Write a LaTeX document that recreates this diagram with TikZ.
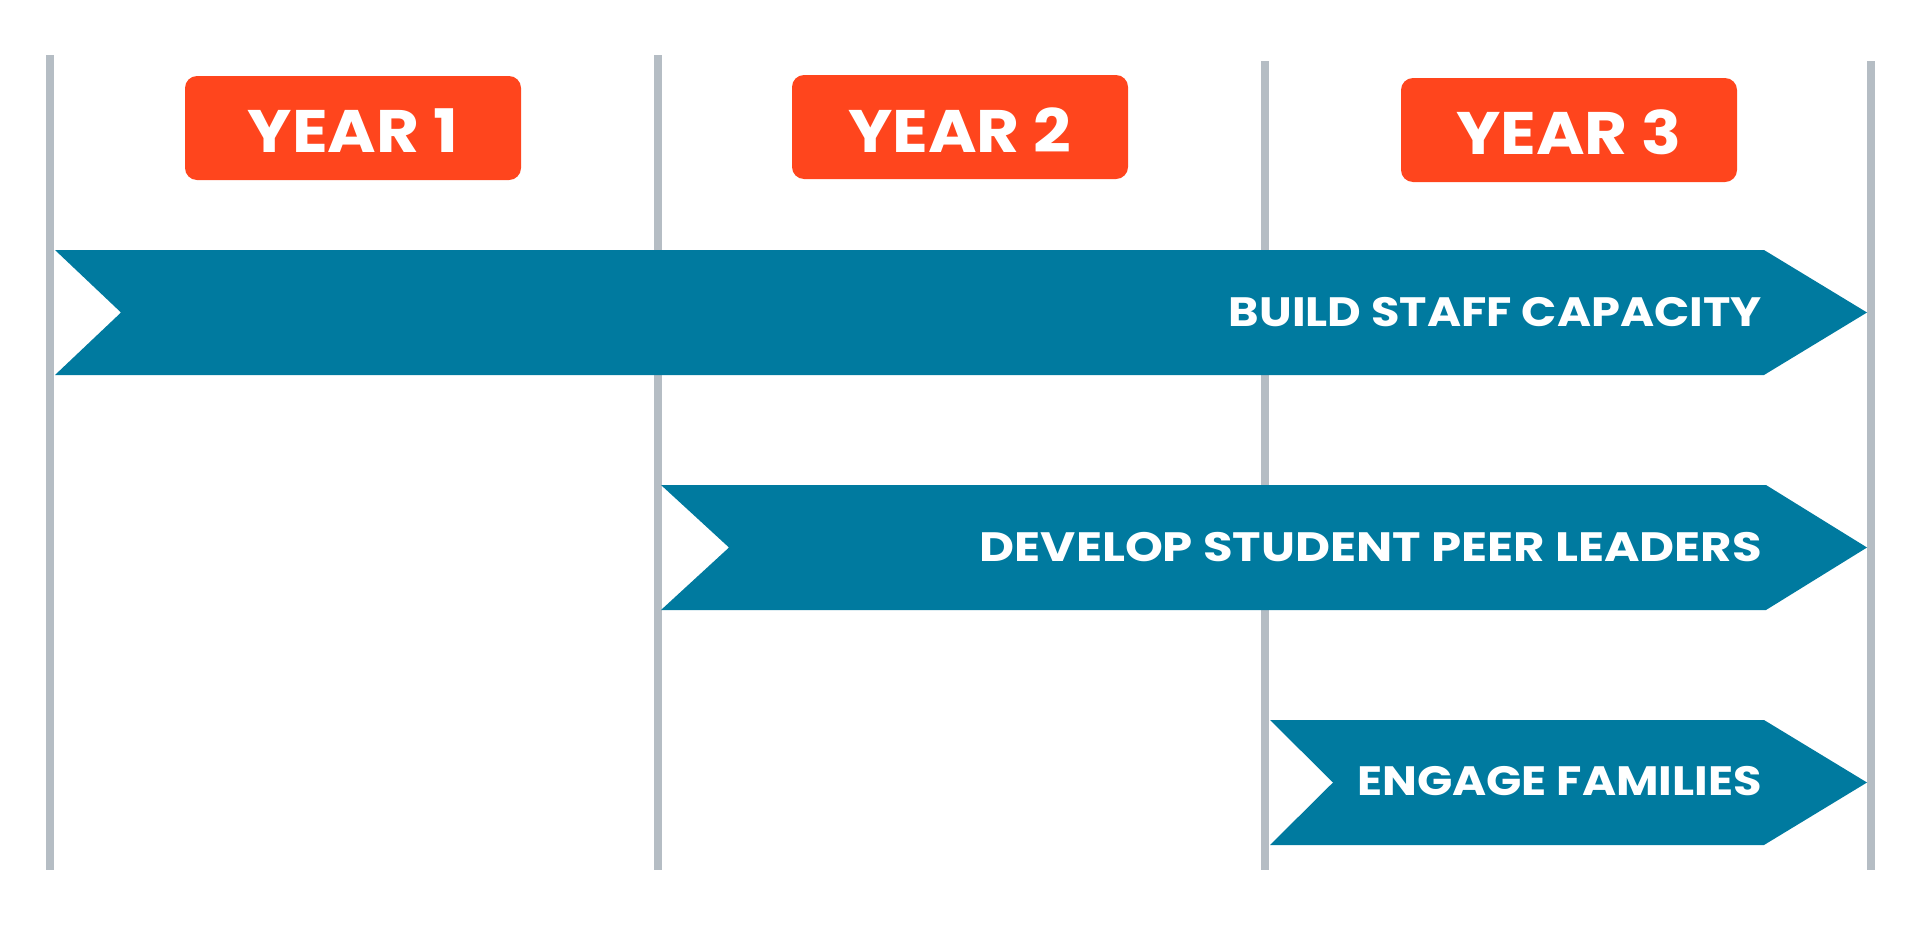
\documentclass[tikz,border=0pt]{standalone}
\usepackage{fontspec}
\setmainfont{Poppins}
\definecolor{yearorange}{HTML}{FF451D}
\definecolor{bandteal}{HTML}{007A9F}
\definecolor{linegray}{HTML}{B5BDC4}
\begin{document}
\begin{tikzpicture}[x=1pt,y=-1pt,
  yearbox/.style={fill=yearorange, rounded corners=12pt},
  yeartext/.style={text=white, font=\fontsize{60}{60}\selectfont\bfseries\addfontfeatures{FakeStretch=1.1}, inner sep=0pt, anchor=base},
  bandshape/.style={fill=bandteal},
  bandtext/.style={text=white, inner sep=0pt, anchor=base east,
    font=\fontsize{41}{41}\selectfont\bfseries\addfontfeatures{FakeStretch=#1}},
  gridline/.style={draw=linegray, line width=8.5pt}]
\useasboundingbox (0,0) rectangle (1920,932);
% vertical grid lines
\coordinate (l1t) at (50,55);   \coordinate (l1b) at (50,870);
\coordinate (l2t) at (658,55);  \coordinate (l2b) at (658,870);
\coordinate (l3t) at (1265,61); \coordinate (l3b) at (1265,870);
\coordinate (l4t) at (1871,61); \coordinate (l4b) at (1871,870);
\draw[gridline] (l1t) -- (l1b);
\draw[gridline] (l2t) -- (l2b);
\draw[gridline] (l3t) -- (l3b);
\draw[gridline] (l4t) -- (l4b);
% year boxes
\fill[yearbox] (185,76) rectangle (521,180);
\fill[yearbox] (792,75) rectangle (1128,179);
\fill[yearbox] (1401,78) rectangle (1737,182);
\node[yeartext] (y1) at (353,152) {YEAR 1};
\node[yeartext] (y2) at (960,152) {YEAR 2};
\node[yeartext] (y3) at (1569,154) {YEAR 3};
% bands
\fill[bandshape] (55,250) -- (1764,250) -- (1867,312.5) -- (1764,375) -- (55,375) -- (121,312.5) -- cycle;
\fill[bandshape] (661,485) -- (1766,485) -- (1867,547.5) -- (1766,610) -- (661,610) -- (729,547.5) -- cycle;
\fill[bandshape] (1270,720) -- (1764,720) -- (1867,782.5) -- (1764,845) -- (1270,845) -- (1333,782.5) -- cycle;
\node[bandtext=1.13] (b1) at (1762,326.5) {BUILD STAFF CAPACITY};
\node[bandtext=1.175] (b2) at (1762,561) {DEVELOP STUDENT PEER LEADERS};
\node[bandtext=1.13] (b3) at (1762,795) {ENGAGE FAMILIES};
\end{tikzpicture}
\end{document}
